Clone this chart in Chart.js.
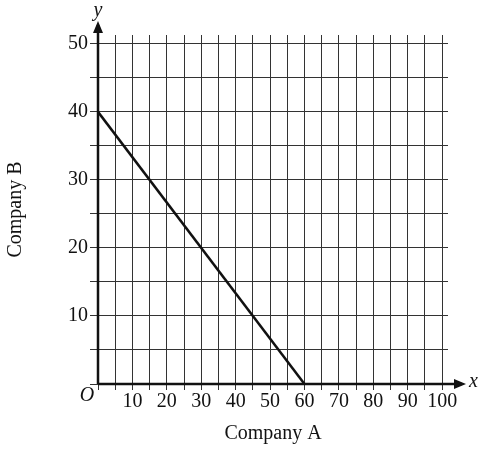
<!DOCTYPE html>
<html>
<head>
<script src="https://cdn.jsdelivr.net/npm/chart.js@4.4.6/dist/chart.umd.js"></script>
<style>body{margin:0;background:#fff}#wrap{width:478px;height:450px}</style>
</head>
<body>
<div id="wrap"><canvas id="myChart"></canvas></div>
<script>
// line between the two intercepts
const companyA = [0, 60];
const companyB = [40, 0];
const xTicks = [10, 20, 30, 40, 50, 60, 70, 80, 90, 100];
const yTicks = [10, 20, 30, 40, 50];

const serif = '"Liberation Serif", "DejaVu Serif", serif';

// arrows and the O, x, y letters
const axisDeco = {
    id: 'axisDeco',
    afterDraw(chart) {
        const c = chart.ctx, xs = chart.scales.x, ys = chart.scales.y;
        const x0 = xs.getPixelForValue(0), y0 = ys.getPixelForValue(0);
        const xe = chart.chartArea.right + 14, ye = chart.chartArea.top - 10;
        c.save();
        c.strokeStyle = '#111'; c.fillStyle = '#111'; c.lineWidth = 2.5;
        c.beginPath(); c.moveTo(x0, y0); c.lineTo(xe, y0); c.moveTo(x0, y0); c.lineTo(x0, ye); c.stroke();
        c.beginPath(); c.moveTo(xe + 4, y0); c.lineTo(xe - 8, y0 - 5); c.lineTo(xe - 8, y0 + 5); c.fill();
        c.beginPath(); c.moveTo(x0, ye - 4); c.lineTo(x0 - 5, ye + 8); c.lineTo(x0 + 5, ye + 8); c.fill();
        c.font = 'italic 20px ' + serif;
        c.textBaseline = 'middle';
        c.fillText('x', xe + 7, y0 - 2);
        c.textAlign = 'center';
        c.fillText('y', x0, ye - 14);
        c.fillText('O', x0 - 11, y0 + 12);
        c.restore();
    }
};

new Chart(document.getElementById('myChart'), {
    type: 'line',
    data: {
        datasets: [{
            data: companyA.map((a, i) => ({x: a, y: companyB[i]})),
            borderColor: '#111',
            borderWidth: 2.5,
            pointRadius: 0,
            tension: 0
        }]
    },
    options: {
        responsive: true,
        maintainAspectRatio: false,
        animation: false,
        layout: {padding: {top: 35, right: 30, left: 0, bottom: 0}},
        plugins: {legend: {display: false}, tooltip: {enabled: false}},
        scales: {
            x: {
                type: 'linear', min: 0, max: 101.7,
                afterFit(s) { s.height = 66; },
                afterBuildTicks(s) { s.ticks = []; for (let v = 0; v <= 100; v += 5) s.ticks.push({value: v}); },
                grid: {color: '#333', lineWidth: 1, tickLength: 6},
                border: {display: false},
                ticks: {
                    autoSkip: false, maxRotation: 0, padding: 0, color: '#111',
                    font: {family: serif, size: 20},
                    callback: v => xTicks.includes(v) ? String(v) : ''
                },
                title: {display: true, text: 'Company A', color: '#111', font: {family: serif, size: 20}, padding: {top: 4}}
            },
            y: {
                type: 'linear', min: 0, max: 51.3,
                afterFit(s) { s.width = 98; },
                afterBuildTicks(s) { s.ticks = []; for (let v = 0; v <= 50; v += 5) s.ticks.push({value: v}); },
                grid: {color: '#333', lineWidth: 1, tickLength: 8},
                border: {display: false},
                ticks: {
                    autoSkip: false, padding: 2, color: '#111',
                    font: {family: serif, size: 20},
                    callback: v => yTicks.includes(v) ? String(v) : ''
                },
                title: {display: true, text: 'Company B', color: '#111', font: {family: serif, size: 20}, padding: {bottom: 14}}
            }
        }
    },
    plugins: [axisDeco]
});
</script>
</body>
</html>
